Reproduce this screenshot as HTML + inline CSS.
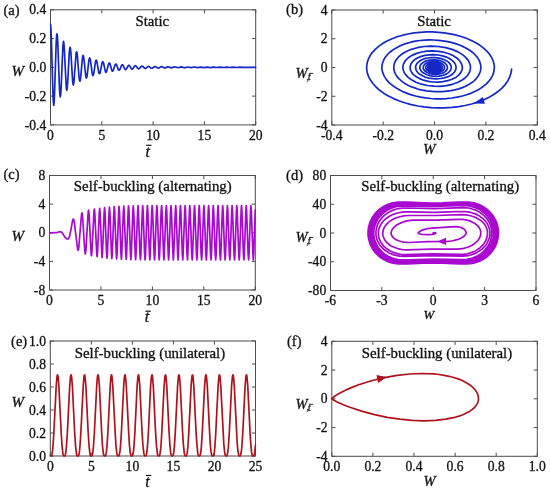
<!DOCTYPE html>
<html><head><meta charset="utf-8"><title>Figure</title>
<style>
html,body{margin:0;padding:0;background:#fff;}
body{width:550px;height:492px;overflow:hidden;}
svg{display:block;}
text{font-family:"Liberation Serif","Times New Roman",serif;fill:#111;stroke:#111;stroke-width:0.3px;}
.tl text{font-size:13.6px;}
.tt{font-size:14.85px;}
.pl{font-size:14.5px;}
.it{font-size:15px;font-style:italic;}
.itt{font-size:16px;font-style:italic;}
.sub{font-size:10px;}
.subi{font-style:italic;font-size:9.5px;}
.itr{font-size:14.5px;font-style:italic;}
</style></head><body>
<svg width="550" height="492" viewBox="0 0 550 492"><defs><clipPath id="ca"><rect x="49.50" y="8.80" width="207.20" height="117.10"/></clipPath><clipPath id="cb"><rect x="330.80" y="9.00" width="207.50" height="117.00"/></clipPath><clipPath id="cc"><rect x="48.50" y="174.50" width="207.80" height="116.50"/></clipPath><clipPath id="cd"><rect x="329.50" y="174.50" width="207.50" height="117.00"/></clipPath><clipPath id="ce"><rect x="49.30" y="340.00" width="207.20" height="117.00"/></clipPath><clipPath id="cf"><rect x="330.80" y="340.30" width="207.50" height="117.00"/></clipPath></defs><g stroke="#4d4d4d" stroke-width="1" fill="none"><path d="M50.50 124.90v-3.6M50.50 9.80v3.6"/><path d="M101.80 124.90v-3.6M101.80 9.80v3.6"/><path d="M153.10 124.90v-3.6M153.10 9.80v3.6"/><path d="M204.40 124.90v-3.6M204.40 9.80v3.6"/><path d="M255.70 124.90v-3.6M255.70 9.80v3.6"/><path d="M50.50 124.90h3.6M255.70 124.90h-3.6"/><path d="M50.50 96.12h3.6M255.70 96.12h-3.6"/><path d="M50.50 67.35h3.6M255.70 67.35h-3.6"/><path d="M50.50 38.57h3.6M255.70 38.57h-3.6"/><path d="M50.50 9.80h3.6M255.70 9.80h-3.6"/><rect x="50.50" y="9.80" width="205.20" height="115.10" fill="none"/></g><g stroke="#4d4d4d" stroke-width="1" fill="none"><path d="M331.80 125.00v-3.6M331.80 10.00v3.6"/><path d="M383.18 125.00v-3.6M383.18 10.00v3.6"/><path d="M434.55 125.00v-3.6M434.55 10.00v3.6"/><path d="M485.92 125.00v-3.6M485.92 10.00v3.6"/><path d="M537.30 125.00v-3.6M537.30 10.00v3.6"/><path d="M331.80 125.00h3.6M537.30 125.00h-3.6"/><path d="M331.80 96.25h3.6M537.30 96.25h-3.6"/><path d="M331.80 67.50h3.6M537.30 67.50h-3.6"/><path d="M331.80 38.75h3.6M537.30 38.75h-3.6"/><path d="M331.80 10.00h3.6M537.30 10.00h-3.6"/><rect x="331.80" y="10.00" width="205.50" height="115.00" fill="none"/></g><g stroke="#4d4d4d" stroke-width="1" fill="none"><path d="M49.50 290.00v-3.6M49.50 175.50v3.6"/><path d="M100.95 290.00v-3.6M100.95 175.50v3.6"/><path d="M152.40 290.00v-3.6M152.40 175.50v3.6"/><path d="M203.85 290.00v-3.6M203.85 175.50v3.6"/><path d="M255.30 290.00v-3.6M255.30 175.50v3.6"/><path d="M49.50 290.00h3.6M255.30 290.00h-3.6"/><path d="M49.50 261.38h3.6M255.30 261.38h-3.6"/><path d="M49.50 232.75h3.6M255.30 232.75h-3.6"/><path d="M49.50 204.12h3.6M255.30 204.12h-3.6"/><path d="M49.50 175.50h3.6M255.30 175.50h-3.6"/><rect x="49.50" y="175.50" width="205.80" height="114.50" fill="none"/></g><g stroke="#4d4d4d" stroke-width="1" fill="none"><path d="M330.50 290.50v-3.6M330.50 175.50v3.6"/><path d="M381.88 290.50v-3.6M381.88 175.50v3.6"/><path d="M433.25 290.50v-3.6M433.25 175.50v3.6"/><path d="M484.62 290.50v-3.6M484.62 175.50v3.6"/><path d="M536.00 290.50v-3.6M536.00 175.50v3.6"/><path d="M330.50 290.50h3.6M536.00 290.50h-3.6"/><path d="M330.50 261.75h3.6M536.00 261.75h-3.6"/><path d="M330.50 233.00h3.6M536.00 233.00h-3.6"/><path d="M330.50 204.25h3.6M536.00 204.25h-3.6"/><path d="M330.50 175.50h3.6M536.00 175.50h-3.6"/><rect x="330.50" y="175.50" width="205.50" height="115.00" fill="none"/></g><g stroke="#4d4d4d" stroke-width="1" fill="none"><path d="M50.30 456.00v-3.6M50.30 341.00v3.6"/><path d="M91.34 456.00v-3.6M91.34 341.00v3.6"/><path d="M132.38 456.00v-3.6M132.38 341.00v3.6"/><path d="M173.42 456.00v-3.6M173.42 341.00v3.6"/><path d="M214.46 456.00v-3.6M214.46 341.00v3.6"/><path d="M255.50 456.00v-3.6M255.50 341.00v3.6"/><path d="M50.30 456.00h3.6M255.50 456.00h-3.6"/><path d="M50.30 433.00h3.6M255.50 433.00h-3.6"/><path d="M50.30 410.00h3.6M255.50 410.00h-3.6"/><path d="M50.30 387.00h3.6M255.50 387.00h-3.6"/><path d="M50.30 364.00h3.6M255.50 364.00h-3.6"/><path d="M50.30 341.00h3.6M255.50 341.00h-3.6"/><rect x="50.30" y="341.00" width="205.20" height="115.00" fill="none"/></g><g stroke="#4d4d4d" stroke-width="1" fill="none"><path d="M331.80 456.30v-3.6M331.80 341.30v3.6"/><path d="M372.90 456.30v-3.6M372.90 341.30v3.6"/><path d="M414.00 456.30v-3.6M414.00 341.30v3.6"/><path d="M455.10 456.30v-3.6M455.10 341.30v3.6"/><path d="M496.20 456.30v-3.6M496.20 341.30v3.6"/><path d="M537.30 456.30v-3.6M537.30 341.30v3.6"/><path d="M331.80 456.30h3.6M537.30 456.30h-3.6"/><path d="M331.80 427.55h3.6M537.30 427.55h-3.6"/><path d="M331.80 398.80h3.6M537.30 398.80h-3.6"/><path d="M331.80 370.05h3.6M537.30 370.05h-3.6"/><path d="M331.80 341.30h3.6M537.30 341.30h-3.6"/><rect x="331.80" y="341.30" width="205.50" height="115.00" fill="none"/></g><g fill="none" stroke-width="1.7" stroke-linejoin="round" stroke-linecap="round"><path clip-path="url(#ca)" d="M50.5 24.2 50.9 27.6 51.3 37.0 53.0 95.4 53.4 102.9 53.7 105.4 54.1 102.7 54.5 94.5 56.2 42.3 56.6 36.0 57.0 33.9 57.4 36.2 57.8 43.4 59.5 89.5 59.9 95.0 60.3 96.8 60.7 94.7 61.1 88.4 62.8 48.0 63.2 43.0 63.5 41.4 63.9 43.2 64.3 48.8 66.1 84.5 66.4 88.8 66.8 90.2 67.2 88.6 67.6 83.6 69.3 52.3 69.7 48.5 70.1 47.2 70.5 48.6 70.9 52.9 72.6 80.6 73.0 84.0 73.3 85.1 73.7 83.8 74.1 80.0 75.9 55.7 76.2 52.7 76.6 51.8 77.0 52.8 77.4 56.2 79.1 77.7 79.5 80.2 79.9 81.1 80.3 80.1 80.7 77.1 82.4 58.3 82.8 56.0 83.1 55.3 83.5 56.1 83.9 58.7 85.7 75.3 86.0 77.3 86.4 78.0 86.8 77.2 87.2 74.9 88.9 60.4 89.3 58.6 89.7 58.0 90.1 58.6 90.5 60.6 92.2 73.5 92.6 75.1 92.9 75.6 93.3 75.0 93.8 73.2 95.5 61.9 95.8 60.5 96.2 60.1 96.6 60.6 97.0 62.2 98.7 72.1 99.1 73.4 99.5 73.7 99.9 73.3 100.3 71.9 102.0 63.1 102.4 62.1 102.7 61.7 103.1 62.1 103.6 63.3 105.3 71.1 105.6 72.0 106.0 72.3 106.4 72.0 106.8 70.9 108.5 64.1 108.9 63.3 109.3 63.0 109.7 63.3 110.1 64.2 111.8 70.2 112.2 71.0 112.5 71.2 112.9 70.9 113.4 70.1 115.1 64.8 115.4 64.2 115.8 64.0 116.2 64.2 116.6 64.9 118.3 69.6 118.7 70.1 119.1 70.3 119.5 70.1 119.9 69.5 121.6 65.4 122.3 64.7 122.7 64.9 123.2 65.5 124.9 69.1 125.6 69.7 126.0 69.5 126.4 69.0 128.1 65.8 128.9 65.3 129.7 65.9 131.4 68.7 132.1 69.2 133.0 68.6 134.7 66.1 135.4 65.7 136.2 66.2 137.9 68.4 138.7 68.8 139.5 68.4 141.2 66.4 142.0 66.0 142.8 66.4 144.5 68.2 145.2 68.5 146.1 68.2 147.8 66.5 148.5 66.3 149.3 66.6 151.0 68.1 151.8 68.3 152.5 68.1 154.2 66.8 155.0 66.5 155.7 66.7 157.4 67.9 158.3 68.1 159.0 68.0 160.7 66.9 161.6 66.6 162.4 66.8 164.1 67.9 164.8 68.0 165.5 67.9 167.2 66.9 168.1 66.7 171.4 67.9 174.6 66.8 177.9 67.8 181.2 66.9 184.4 67.8 187.7 67.0 191.0 67.7 194.2 67.0 197.5 67.6 200.8 67.1 204.0 67.6 207.3 67.1 210.6 67.6 213.8 67.2 217.1 67.5 220.4 67.2 223.6 67.5 226.9 67.2 230.1 67.5 233.4 67.2 236.7 67.5 240.0 67.2 243.2 67.4 246.5 67.3 255.7 67.4" stroke="#1428c8"/><path clip-path="url(#cb)" d="M511.6 69.2 511.0 73.0 509.7 77.1 507.9 80.7 505.2 84.6 502.2 87.9 498.3 91.3 493.8 94.5 488.7 97.4 483.8 99.8 477.9 102.0 471.6 104.0 465.0 105.5 458.8 106.6 451.8 107.4 444.7 107.9 437.6 107.9 431.2 107.6 424.1 106.9 417.9 106.0 411.2 104.6 405.5 103.0 399.4 101.0 393.6 98.6 388.4 96.0 384.0 93.4 379.7 90.3 376.0 87.0 372.9 83.5 370.6 80.3 368.6 76.6 367.3 72.9 366.7 69.1 366.7 65.8 367.4 62.1 368.5 58.8 370.3 55.3 372.5 52.3 375.5 49.1 379.0 46.1 383.0 43.3 387.1 41.0 392.0 38.8 397.2 36.8 402.8 35.2 408.0 34.0 414.1 32.9 420.3 32.3 426.5 31.9 432.2 31.9 438.5 32.3 444.0 32.8 450.1 33.8 455.4 34.9 461.0 36.5 466.3 38.3 471.3 40.5 475.4 42.6 479.6 45.1 483.3 47.9 486.5 50.8 489.0 53.6 491.2 56.7 492.8 60.0 493.8 63.2 494.3 66.2 494.2 69.5 493.7 72.4 492.5 75.6 491.0 78.4 488.8 81.3 486.1 84.1 482.9 86.7 479.7 88.9 475.7 91.1 471.4 93.1 466.7 94.7 462.3 96.0 457.1 97.2 451.8 98.0 446.3 98.6 441.3 98.8 435.8 98.8 430.8 98.5 425.4 97.9 420.6 97.1 415.5 96.0 410.6 94.6 405.9 92.9 402.0 91.2 398.0 89.1 394.4 86.8 391.1 84.4 388.6 82.1 386.3 79.4 384.5 76.6 383.1 73.7 382.3 71.1 381.9 68.2 382.0 65.6 382.6 62.7 383.6 60.2 385.1 57.5 387.1 55.0 389.5 52.5 392.1 50.5 395.3 48.4 398.9 46.4 402.7 44.8 406.5 43.4 410.8 42.2 415.4 41.2 420.1 40.5 424.4 40.1 429.3 39.9 433.7 40.0 438.5 40.3 442.8 40.8 447.5 41.6 452.0 42.6 456.3 43.9 460.0 45.2 463.8 46.9 467.2 48.8 470.4 50.8 472.9 52.7 475.3 55.0 477.3 57.4 478.9 59.9 479.9 62.2 480.6 64.7 480.9 67.0 480.7 69.6 480.2 71.8 479.2 74.3 477.8 76.6 476.0 78.9 474.1 80.8 471.5 82.8 468.7 84.6 465.5 86.3 462.4 87.6 458.7 88.9 454.8 89.9 450.8 90.7 442.8 91.7 434.7 91.7 426.6 90.9 422.5 90.2 418.6 89.3 411.7 86.9 408.4 85.4 405.3 83.7 402.9 82.1 400.5 80.2 398.4 78.2 396.7 76.1 395.5 74.1 394.5 71.9 394.0 69.8 393.8 67.6 393.9 65.6 394.4 63.4 395.4 61.2 396.7 59.2 398.1 57.4 400.1 55.5 402.4 53.8 404.9 52.2 410.5 49.6 417.2 47.7 424.1 46.5 431.2 46.1 438.4 46.5 445.7 47.6 452.1 49.4 458.0 51.9 462.8 54.9 464.9 56.6 466.6 58.4 468.0 60.1 469.1 62.0 469.8 63.8 470.3 65.7 470.5 67.5 470.3 69.5 469.8 71.4 468.9 73.3 467.8 74.9 466.4 76.7 464.6 78.3 462.6 79.8 458.0 82.3 452.4 84.3 446.5 85.6 440.3 86.3 434.0 86.2 427.4 85.5 421.6 84.2 416.0 82.2 411.5 79.8 407.6 76.9 405.0 73.8 404.1 72.3 403.4 70.5 403.0 69.0 402.9 67.2 403.1 65.5 403.6 63.8 404.4 62.3 405.4 60.7 406.7 59.2 408.3 57.8 412.0 55.4 416.7 53.4 421.7 52.0 427.0 51.2 432.6 50.9 438.4 51.3 443.7 52.2 448.9 53.7 453.4 55.8 457.1 58.2 459.8 60.9 461.5 63.7 462.3 66.6 462.4 68.1 462.1 69.6 460.9 72.4 458.7 75.1 455.8 77.4 451.9 79.3 447.7 80.7 443.1 81.6 438.2 82.1 433.1 82.0 428.3 81.3 423.6 80.2 419.6 78.6 416.0 76.6 413.3 74.4 411.4 72.0 410.3 69.4 410.1 66.7 410.8 64.2 412.4 61.8 414.6 59.7 417.8 57.8 421.3 56.4 425.2 55.4 429.4 54.8 433.9 54.7 438.2 55.0 442.5 55.9 446.4 57.1 449.8 58.8 452.4 60.6 454.4 62.7 455.6 64.9 456.1 67.3 455.8 69.5 454.7 71.7 452.9 73.7 450.4 75.5 447.5 76.9 444.2 77.9 440.6 78.5 436.6 78.8 432.8 78.7 429.0 78.1 425.5 77.2 422.4 75.8 419.8 74.3 417.8 72.6 416.4 70.7 415.7 68.6 415.6 66.6 416.3 64.6 417.6 62.8 419.6 61.1 421.9 59.8 424.7 58.7 427.8 58.0 431.3 57.6 434.6 57.6 438.1 57.9 441.3 58.6 444.3 59.7 446.7 60.9 448.7 62.4 450.1 64.0 451.0 65.8 451.3 67.6 450.9 69.4 450.0 71.0 448.5 72.6 446.5 73.9 444.2 74.9 441.6 75.7 438.8 76.1 435.8 76.3 432.7 76.1 429.9 75.6 427.2 74.8 424.9 73.8 422.9 72.6 421.4 71.3 420.4 69.7 419.9 68.2 419.9 66.6 420.5 65.1 421.6 63.6 423.1 62.4 425.0 61.4 427.2 60.6 429.7 60.1 432.3 59.8 435.0 59.8 437.7 60.1 440.2 60.7 442.3 61.5 444.1 62.5 445.6 63.7 446.7 65.0 447.3 66.4 447.5 67.8 447.1 69.2 446.3 70.5 445.1 71.6 443.6 72.6 441.7 73.3 439.7 73.9 437.5 74.2 435.1 74.3 432.8 74.1 430.5 73.7 428.5 73.1 426.8 72.3 425.3 71.3 424.2 70.2 423.5 69.0 423.2 67.8 423.3 66.6 423.8 65.4 424.7 64.4 425.9 63.4 427.4 62.7 429.2 62.1 433.2 61.5 437.4 61.9 440.8 63.0 442.2 63.8 443.3 64.7 444.1 65.7 444.5 66.8 444.6 67.9 444.2 69.0 443.5 70.0 442.6 70.8 439.9 72.1 436.4 72.7 432.8 72.6 429.7 71.7 427.3 70.3 426.4 69.5 425.9 68.5 425.7 67.6 425.8 66.7 426.3 65.8 427.0 65.0 429.2 63.7 432.1 63.0 435.4 62.9 438.3 63.6 440.6 64.7 442.0 66.3 442.3 67.1 442.3 68.0 442.0 68.8 441.4 69.5 439.7 70.7 437.2 71.4 434.4 71.6 431.8 71.1 429.6 70.2 428.2 68.9 427.8 68.2 427.7 67.5 428.2 66.1 429.6 64.9 431.6 64.2 434.1 63.9 436.5 64.2 438.6 64.9 440.0 66.0 440.6 67.3 440.3 68.6 439.2 69.6 437.4 70.4 435.3 70.7 433.2 70.5 431.4 70.0 430.0 69.1 429.3 68.0 429.4 66.9 430.1 65.9 431.5 65.1 433.4 64.7 435.3 64.8 437.0 65.2 438.4 66.0 439.1 66.9 439.2 67.9 438.6 68.8 437.4 69.5 435.9 69.9 434.3 69.9 432.7 69.6 431.5 69.1 430.7 68.3 430.4 67.4 430.8 66.6 431.7 65.9 433.0 65.4 434.5 65.3 435.9 65.5 437.1 66.0 437.9 66.7 438.2 67.5 437.9 68.3 437.2 68.9 436.1 69.3 434.9 69.4 433.6 69.3 432.5 68.9 431.7 68.4 431.3 67.7 431.4 67.0 432.0 66.4 432.9 66.0 434.0 65.8 435.2 65.9 436.3 66.2 437.1 66.7 437.4 67.3 437.4 67.9 436.9 68.4 436.1 68.8 434.2 69.0 432.5 68.4 432.1 67.9 432.0 67.3 432.3 66.8 432.9 66.4 434.7 66.1 436.4 66.7 436.8 67.1 436.9 67.6 436.6 68.1 436.0 68.5 434.9 68.7 433.8 68.6 432.8 68.2 432.5 67.6 432.8 66.9 433.7 66.5 434.8 66.4 435.9 66.7 436.3 67.1 436.4 67.5 436.3 67.9 435.9 68.2 435.1 68.5 434.1 68.5 433.3 68.1 432.9 67.7 433.0 67.1 433.6 66.7 434.6 66.6 435.5 66.8 436.1 67.4 435.8 68.0 435.1 68.3 434.3 68.3 433.6 68.1 433.2 67.7 433.2 67.2 433.7 66.9 434.4 66.7 435.2 66.9 435.8 67.3 435.7 67.9 434.5 68.2 433.8 68.0 433.4 67.7 433.4 67.3 433.7 67.0 435.0 66.9 435.6 67.3 435.5 67.8 434.6 68.1 433.6 67.7 433.5 67.4 433.8 67.1 434.9 67.0 435.4 67.3 435.4 67.7 434.6 68.0 433.8 67.7 433.7 67.5 433.9 67.2 434.8 67.1 435.3 67.3 435.3 67.6 434.7 67.9 433.9 67.7 433.8 67.5 433.9 67.3 434.7 67.1 435.1 67.3 435.2 67.6 434.7 67.9 434.1 67.7 434.0 67.3 434.6 67.2 435.0 67.3 435.1 67.6 434.7 67.8 434.2 67.7 434.1 67.4 434.6 67.2 434.9 67.3 435.0 67.6 434.7 67.8 434.2 67.7 434.1 67.4 434.5 67.3 435.0 67.5 434.7 67.7 434.3 67.7 434.2 67.4 434.5 67.3 434.9 67.5 434.3 67.6 434.2 67.4 434.5 67.3 434.8 67.5 434.4 67.6 434.3 67.4 434.5 67.4 434.8 67.5 434.4 67.6 434.5 67.4 434.8 67.5 434.4 67.6 434.5 67.4 434.7 67.5 434.4 67.6 434.5 67.4 434.7 67.5 434.5 67.5" stroke="#1428c8"/><path clip-path="url(#cc)" d="M49.5 232.8 56.2 232.7 59.5 231.8 60.8 231.8 61.5 232.2 62.3 233.0 65.0 237.1 66.0 238.3 67.0 239.0 68.2 238.9 68.9 238.0 69.6 235.9 71.0 229.5 72.6 220.3 73.0 219.2 73.4 219.1 73.9 220.2 74.4 222.8 77.4 247.5 77.8 249.8 78.0 250.3 78.2 250.3 78.5 249.3 78.9 246.3 81.3 216.7 81.7 213.7 82.0 212.9 82.3 214.0 82.6 217.0 84.7 249.5 85.0 253.0 85.3 253.9 85.6 252.7 86.0 249.3 88.0 214.7 88.3 211.1 88.6 210.1 89.2 215.6 91.0 251.7 91.2 254.9 91.5 255.7 92.0 251.0 93.8 214.3 94.1 210.3 94.4 209.1 94.8 213.4 96.6 251.2 96.8 255.2 97.1 256.7 97.6 252.0 99.2 213.9 99.7 208.3 100.1 212.6 101.7 251.9 102.1 257.6 102.5 253.2 104.1 213.3 104.6 207.5 105.0 212.1 106.5 252.3 107.0 258.2 107.4 253.6 109.0 213.0 109.4 207.0 109.9 211.8 111.4 252.5 111.8 258.7 112.3 253.8 113.8 212.8 114.2 206.6 114.7 211.5 116.2 252.8 116.6 259.0 117.1 254.0 118.6 212.7 119.0 206.3 119.5 211.4 120.9 252.9 121.4 259.3 121.8 254.2 123.3 212.5 123.8 206.1 124.2 211.2 125.7 253.0 126.2 259.5 126.6 254.3 128.1 212.4 128.5 205.9 129.0 211.1 130.4 253.1 130.9 259.6 131.3 254.4 132.8 212.3 133.3 205.8 133.7 210.5 135.2 253.7 135.6 259.7 136.0 255.0 137.6 211.7 138.0 205.7 138.4 210.5 139.9 253.8 140.4 259.8 140.8 255.1 142.3 211.7 142.7 205.7 143.1 210.4 144.6 253.8 145.1 259.9 145.5 255.1 147.0 211.6 147.4 205.6 147.8 210.4 149.4 253.9 149.8 259.9 150.2 255.1 151.7 211.6 152.2 205.6 152.6 210.4 154.1 253.9 154.5 259.9 154.9 255.2 156.4 211.6 156.9 205.6 157.3 210.3 158.8 253.9 159.2 260.0 159.6 255.2 161.1 211.6 161.6 205.5 162.0 210.3 163.5 253.9 163.9 260.0 164.3 255.2 165.8 211.6 166.3 205.5 166.7 210.3 168.2 253.9 168.6 260.0 169.0 255.2 170.5 211.6 171.0 205.5 171.4 210.3 172.9 253.9 173.3 260.0 173.7 255.2 175.3 211.5 175.7 205.5 176.1 210.3 177.6 254.0 178.0 260.0 178.4 255.2 180.0 211.5 180.4 205.5 180.8 210.3 182.3 254.0 182.8 260.0 183.1 255.2 184.7 211.5 185.1 205.5 185.5 210.3 187.0 254.0 187.5 260.0 187.8 255.2 189.4 211.5 189.8 205.5 190.2 210.3 191.7 254.0 192.2 260.0 192.6 255.2 194.1 211.5 194.5 205.5 194.9 210.3 196.4 254.0 196.9 260.0 197.3 255.2 198.8 211.5 199.2 205.5 199.6 210.3 201.1 254.0 201.6 260.0 202.0 255.2 203.5 211.5 203.9 205.5 204.3 210.3 205.8 254.0 206.3 260.0 206.7 255.2 208.2 211.5 208.6 205.5 209.0 210.3 210.5 254.0 211.0 260.0 211.4 255.2 212.9 211.5 213.3 205.5 213.7 210.3 215.2 254.0 215.7 260.0 216.1 255.2 217.6 211.5 218.0 205.5 218.4 210.3 219.9 254.0 220.4 260.0 220.8 255.2 222.3 211.5 222.7 205.5 223.1 210.3 224.6 254.0 225.1 260.0 225.5 255.2 227.0 211.5 227.4 205.5 227.8 210.3 229.3 254.0 229.8 260.0 230.2 255.2 231.7 211.5 232.1 205.5 232.5 210.3 234.0 254.0 234.5 260.0 234.9 255.2 236.4 211.5 236.8 205.5 237.2 210.3 238.7 254.0 239.2 260.0 239.6 255.2 241.1 211.5 241.5 205.5 241.9 210.3 243.4 254.0 243.9 260.0 244.3 255.2 245.8 211.5 246.2 205.5 246.6 210.3 248.1 254.0 248.6 260.0 249.0 255.2 250.5 211.5 250.9 205.5 251.3 210.3 252.9 254.0 253.3 260.0 253.7 254.0 255.3 209.7" stroke="#a808d0"/><path clip-path="url(#cd)" d="M433.2 233.0 433.5 232.8 434.2 232.6 435.7 232.8 435.8 233.0 435.7 233.3 434.7 233.8 432.1 234.4 428.4 234.7 422.2 234.4 419.9 234.0 418.5 233.4 418.2 233.0 418.5 232.5 420.6 230.9 423.7 229.6 427.1 228.7 432.1 228.1 454.9 226.6 458.3 226.8 461.1 227.5 463.5 228.7 465.2 230.3 465.8 231.5 466.1 232.5 466.1 233.3 465.8 234.2 464.3 236.0 461.8 237.7 458.5 239.2 454.4 240.4 451.2 241.0 447.7 241.3 428.3 241.7 409.2 242.5 403.6 242.1 401.0 241.5 398.5 240.8 396.3 239.8 394.8 238.9 393.5 237.9 392.5 236.7 391.6 235.2 391.2 234.0 391.1 232.8 391.4 231.4 391.9 230.0 392.8 228.6 394.1 227.2 395.6 225.8 397.5 224.5 399.7 223.4 404.1 221.7 408.3 220.7 412.9 220.2 436.0 220.1 459.2 219.3 462.5 219.4 465.7 219.9 468.8 220.6 470.9 221.4 473.5 222.7 475.3 223.8 477.3 225.4 478.6 226.8 479.8 228.8 480.5 230.3 480.8 231.9 480.8 234.0 480.3 236.1 479.6 237.8 478.2 240.1 476.8 241.7 474.4 243.7 472.4 245.0 470.1 246.2 467.6 247.2 462.2 248.7 457.4 249.2 431.2 249.1 406.6 249.8 402.5 249.6 399.6 249.1 396.8 248.3 394.1 247.3 390.8 245.7 388.7 244.2 386.8 242.5 385.3 240.6 384.1 238.7 383.3 236.6 382.8 234.4 382.8 232.0 383.3 229.7 384.1 227.8 385.6 225.4 387.2 223.6 389.7 221.4 391.9 220.0 394.4 218.6 397.1 217.5 402.0 216.2 407.3 215.5 435.9 215.5 461.9 214.7 466.4 214.9 469.6 215.5 473.7 216.7 476.6 217.9 479.2 219.4 481.5 221.1 483.5 223.0 485.1 225.1 486.3 227.4 487.1 229.8 487.5 232.2 487.4 234.9 486.8 237.9 485.7 240.8 484.0 243.5 482.7 245.2 480.2 247.6 478.4 249.0 475.3 250.9 473.1 251.9 469.6 253.2 467.1 253.8 463.3 254.3 460.7 254.4 432.7 253.9 404.6 254.6 400.7 254.3 398.2 253.9 393.3 252.4 389.9 250.8 386.0 248.2 383.4 245.8 380.8 242.2 379.4 239.2 378.8 237.2 378.4 235.1 378.4 231.3 379.2 227.8 380.9 224.3 383.4 221.0 385.7 218.8 389.5 216.2 392.6 214.6 397.3 213.0 400.9 212.3 404.7 211.9 408.5 211.9 434.9 212.3 456.3 211.6 464.1 211.5 467.9 211.9 471.7 212.7 475.2 213.9 477.5 214.9 480.6 216.8 483.3 218.9 485.6 221.4 486.9 223.1 488.4 226.0 489.4 228.9 489.9 232.0 489.9 234.1 489.4 237.4 488.3 240.7 486.6 243.9 485.1 245.9 482.6 248.6 480.6 250.2 477.2 252.4 474.8 253.6 470.9 255.0 468.2 255.6 462.6 256.2 433.4 255.6 404.0 256.4 399.7 256.2 395.6 255.4 391.6 254.1 389.1 252.9 385.7 250.8 383.6 249.2 380.9 246.4 379.4 244.4 377.6 241.2 376.8 238.9 376.0 235.4 375.9 231.8 376.5 228.2 377.2 225.7 378.8 222.1 380.3 219.9 382.9 216.7 385.0 214.9 388.5 212.4 391.1 211.0 393.8 209.9 396.6 209.0 399.6 208.4 402.5 208.1 410.1 208.0 433.8 208.6 463.8 207.7 468.3 208.0 471.3 208.7 475.6 210.1 478.2 211.4 481.9 213.8 484.1 215.7 487.0 218.8 488.6 221.2 490.4 224.9 491.2 227.6 491.7 230.3 491.8 233.0 491.4 237.1 490.8 239.9 489.1 244.0 487.6 246.6 484.8 250.1 482.6 252.3 480.2 254.2 477.5 255.8 473.2 257.8 470.1 258.7 466.9 259.3 462.1 259.6 433.4 259.0 409.4 259.8 401.3 259.9 398.1 259.5 394.9 258.9 391.8 257.9 388.8 256.6 384.8 254.1 382.3 252.1 379.1 248.7 377.4 246.1 375.4 241.9 374.5 239.0 373.9 236.0 373.7 233.0 374.1 228.7 374.8 225.9 376.5 221.7 378.0 219.1 380.9 215.4 383.1 213.2 385.6 211.3 388.3 209.6 392.8 207.6 395.9 206.7 399.1 206.1 404.0 205.8 433.1 206.5 457.4 205.7 465.7 205.6 468.9 205.9 472.2 206.6 475.3 207.6 478.3 208.9 482.4 211.5 484.9 213.5 488.1 217.1 489.9 219.7 491.9 223.9 492.8 226.9 493.4 229.9 493.6 233.0 493.2 237.4 492.4 240.4 490.7 244.7 489.1 247.4 486.2 251.1 483.8 253.4 481.2 255.3 478.4 257.0 475.4 258.4 472.3 259.5 469.0 260.2 465.7 260.6 457.3 260.6 432.5 260.0 402.6 260.9 397.6 260.6 394.3 259.9 389.5 258.3 386.5 256.8 382.4 254.0 380.0 251.8 377.9 249.3 376.1 246.7 374.0 242.3 373.0 239.3 372.4 236.2 372.3 233.0 372.7 228.5 373.4 225.4 375.2 221.1 376.8 218.3 379.8 214.5 382.1 212.3 384.8 210.3 387.6 208.6 390.6 207.2 393.8 206.1 397.1 205.3 400.5 204.9 409.0 204.9 434.0 205.6 464.2 204.7 469.3 205.0 472.7 205.7 477.5 207.3 480.5 208.9 484.6 211.7 487.0 214.0 489.2 216.4 491.0 219.2 493.1 223.5 494.1 226.6 494.6 229.8 494.8 233.0 494.4 237.7 493.7 240.8 491.8 245.3 490.2 248.1 487.1 251.9 484.6 254.2 481.9 256.2 479.0 258.0 475.9 259.4 472.6 260.4 469.2 261.1 465.8 261.5 457.1 261.4 433.3 260.7 400.8 261.6 395.6 261.1 392.2 260.3 389.0 259.1 385.9 257.6 381.7 254.7 379.2 252.4 377.0 249.9 375.1 247.1 372.9 242.7 371.9 239.5 371.3 236.3 371.1 233.0 371.6 228.2 372.3 225.1 374.2 220.6 375.9 217.7 379.0 213.8 381.5 211.5 384.2 209.5 387.2 207.7 390.3 206.3 393.6 205.3 397.0 204.5 400.5 204.2 409.2 204.3 433.2 205.0 466.0 204.1 471.2 204.6 474.6 205.4 477.8 206.6 480.9 208.2 485.2 211.1 487.7 213.4 489.9 215.9 491.8 218.7 494.0 223.2 495.0 226.4 495.6 229.7 495.8 233.0 495.4 237.8 494.6 241.0 492.7 245.6 491.0 248.5 487.9 252.4 485.4 254.7 482.6 256.8 479.6 258.5 476.5 260.0 473.1 261.0 469.7 261.7 466.2 262.1 457.5 262.0 433.3 261.3 424.8 261.5 407.4 262.1 400.3 262.2 395.1 261.6 391.7 260.8 388.4 259.6 385.3 258.0 381.0 255.1 378.5 252.8 376.2 250.2 374.3 247.4 372.1 242.8 371.1 239.6 370.5 236.3 370.4 231.4 371.1 226.4 372.1 223.2 373.5 220.1 375.2 217.2 378.5 213.2 381.1 210.9 383.9 208.8 386.9 207.1 390.2 205.7 393.6 204.6 397.1 203.9 400.6 203.7 434.1 204.5 465.8 203.5 471.2 204.0 474.6 204.9 478.0 206.0 481.2 207.6 485.6 210.5 488.2 212.9 490.4 215.5 492.4 218.4 494.7 223.0 495.7 226.2 496.3 229.6 496.5 233.0 496.0 238.0 495.2 241.3 493.3 246.0 491.5 248.9 488.3 253.0 485.7 255.3 482.9 257.4 479.8 259.2 476.5 260.6 473.1 261.6 469.6 262.3 466.0 262.6 432.4 261.7 400.5 262.6 395.2 262.1 391.7 261.3 388.3 260.1 385.1 258.6 380.7 255.6 378.1 253.2 375.8 250.6 373.8 247.7 371.6 243.1 370.6 239.8 369.9 236.4 369.7 233.0 370.2 228.0 371.0 224.7 372.9 219.9 374.7 216.9 378.0 212.9 380.6 210.5 383.4 208.4 386.5 206.7 389.8 205.3 393.2 204.2 396.8 203.5 400.3 203.3 434.1 204.1 466.1 203.2 471.5 203.7 475.0 204.5 478.4 205.7 481.6 207.3 486.0 210.3 488.6 212.7 490.9 215.3 492.9 218.2 495.2 222.9 496.2 226.2 496.8 229.6 497.0 233.0 496.6 238.1 495.7 241.4 493.8 246.2 492.0 249.2 488.7 253.2 486.1 255.6 483.2 257.7 480.1 259.5 476.9 260.9 473.4 262.0 469.9 262.6 466.3 262.9 432.4 262.0 400.3 263.0 394.9 262.5 391.4 261.6 388.0 260.4 384.7 258.8 380.3 255.8 377.7 253.4 375.4 250.8 373.4 247.9 371.1 243.2 370.1 239.9 369.5 236.5 369.3 233.0 369.7 227.9 370.6 224.6 372.5 219.8 374.3 216.8 377.6 212.7 380.2 210.3 383.1 208.2 386.2 206.4 389.5 205.0 393.0 203.9 396.5 203.2 400.1 203.0 434.1 203.8 466.3 202.9 471.7 203.4 475.3 204.3 478.7 205.5 481.9 207.1 486.3 210.1 489.0 212.5 491.3 215.2 493.3 218.1 495.5 222.8 496.6 226.1 497.2 229.5 497.4 233.0 496.9 238.1 496.1 241.5 494.1 246.3 492.4 249.3 489.0 253.4 486.4 255.8 483.5 257.9 480.4 259.7 477.1 261.2 473.6 262.2 470.1 262.9 466.4 263.2 432.4 262.3 400.1 263.2 394.7 262.7 391.1 261.8 387.7 260.6 384.5 259.0 380.0 256.0 377.4 253.6 375.1 250.9 373.1 248.0 370.8 243.2 369.8 239.9 369.2 236.5 368.9 233.0 369.4 227.8 370.2 224.5 372.2 219.6 374.0 216.6 377.4 212.5 380.0 210.1 382.9 208.0 386.0 206.2 389.3 204.7 392.8 203.7 396.4 203.0 400.0 202.7 434.1 203.6 466.5 202.7 471.9 203.2 475.5 204.1 478.9 205.3 482.1 206.9 486.6 209.9 489.2 212.4 491.5 215.0 493.5 218.0 495.8 222.7 496.8 226.1 497.5 229.5 497.7 233.0 497.2 238.2 496.4 241.7 495.1 245.0 493.5 248.1 490.3 252.4 487.8 255.0 485.0 257.3 481.9 259.2 476.9 261.5 473.3 262.5 469.7 263.1 466.0 263.3 433.3 262.5 424.3 262.6 407.9 263.3 398.7 263.3 395.0 262.9 391.4 262.1 387.9 260.9 384.6 259.3 380.1 256.3 377.4 253.9 375.0 251.2 373.0 248.2 370.6 243.4 369.6 240.0 368.9 236.5 368.7 233.0 369.2 227.7 370.0 224.3 371.3 221.0 372.9 217.8 376.1 213.5 378.6 210.9 381.5 208.6 384.5 206.7 389.6 204.4 393.1 203.4 396.7 202.8 400.4 202.6 433.2 203.5 442.2 203.3 458.7 202.7 467.9 202.6 471.6 203.0 475.2 203.8 478.7 205.0 482.0 206.6 486.5 209.6 489.2 212.1 491.6 214.8 493.6 217.8 496.0 222.6 497.0 226.0 497.7 229.5 497.9 233.0 497.4 238.3 496.6 241.7 495.3 245.0 493.7 248.2 490.5 252.6 487.9 255.1 485.1 257.4 482.0 259.4 477.0 261.6 473.5 262.7 469.8 263.3 466.1 263.5 433.3 262.6 424.3 262.8 407.8 263.4 398.5 263.5 394.9 263.1 391.3 262.2 387.8 261.0 384.5 259.4 379.9 256.4 377.2 254.0 374.8 251.2 372.8 248.3 370.4 243.4 369.4 240.0 368.7 236.5 368.5 233.0 369.0 227.7 369.9 224.3 371.1 220.9 372.8 217.8 376.0 213.4 378.5 210.8 381.3 208.5 384.4 206.6 389.5 204.3 393.0 203.3 396.6 202.7 400.3 202.5 433.2 203.4 442.3 203.2 458.7 202.5 468.0 202.5 471.7 202.9 475.3 203.7 478.8 204.9 482.1 206.5 486.6 209.6 489.3 212.0 491.7 214.7 493.8 217.7 496.1 222.5 497.2 225.9 497.8 229.4 498.1 233.0 497.6 238.3 496.7 241.7 495.5 245.1 493.8 248.3 490.6 252.6 488.1 255.2 485.2 257.5 482.1 259.5 477.1 261.7 473.5 262.8 469.9 263.4 466.2 263.6 433.3 262.7 424.2 262.9 407.8 263.5 398.5 263.6 394.8 263.2 391.2 262.3 387.7 261.1 384.4 259.5 379.8 256.5 377.1 254.0 374.7 251.3 372.7 248.3 370.3 243.5 369.2 240.1 368.6 236.6 368.4 233.0 368.9 227.7 369.7 224.2 371.0 220.9 372.7 217.7 375.8 213.3 378.4 210.7 381.2 208.5 384.3 206.5 389.4 204.2 392.9 203.2 396.6 202.6 400.3 202.4 433.2 203.3 442.3 203.1 458.8 202.5 468.1 202.4 471.7 202.8 475.4 203.6 478.9 204.8 482.2 206.4 486.7 209.5 489.5 212.0 491.8 214.7 493.9 217.7 496.2 222.5 497.3 225.9 498.0 229.4 498.2 233.0 497.7 238.3 496.8 241.8 495.6 245.1 493.9 248.3 490.7 252.7 488.2 255.3 485.3 257.6 482.2 259.5 477.2 261.8 473.6 262.8 469.9 263.5 466.2 263.7 433.3 262.8 424.2 262.9 407.7 263.6 398.4 263.6 394.7 263.2 391.1 262.4 387.6 261.2 384.3 259.6 379.7 256.5 377.0 254.1 374.6 251.3 372.6 248.4 370.2 243.5 369.1 240.1 368.5 236.6 368.3 233.0 368.8 227.7 369.6 224.2 370.9 220.9 372.6 217.7 375.8 213.3 378.3 210.7 381.2 208.4 384.3 206.4 389.3 204.2 392.9 203.1 396.5 202.5 400.2 202.3 433.2 203.2 442.3 203.0 458.8 202.4 468.1 202.3 471.8 202.8 475.4 203.6 478.9 204.8 482.2 206.4 486.8 209.5 489.5 211.9 491.9 214.7 494.0 217.6 496.3 222.5 497.4 225.9 498.0 229.4 498.3 233.0 497.8 238.3 496.9 241.8 495.6 245.2 494.0 248.3 490.8 252.7 488.2 255.3 485.4 257.6 482.3 259.6 477.2 261.9 473.7 262.9 470.0 263.5 466.3 263.7 433.3 262.8 424.2 263.0 407.7 263.6 398.4 263.7 394.7 263.3 391.1 262.5 387.6 261.2 384.2 259.6 379.7 256.6 376.9 254.1 374.5 251.4 372.5 248.4 370.1 243.5 369.1 240.1 368.4 236.6 368.2 233.0 368.7 227.7 369.6 224.2 370.8 220.8 372.5 217.6 375.7 213.3 378.2 210.6 381.1 208.3 384.2 206.4 389.3 204.1 392.8 203.1 396.5 202.5 400.2 202.3 433.2 203.2 442.3 203.0 458.8 202.4 468.1 202.3 471.8 202.7 475.5 203.5 479.0 204.8 482.3 206.4 486.9 209.4 489.6 211.9 492.0 214.6 494.0 217.6 496.4 222.5 497.5 225.9 498.1 229.4 498.3 233.0 497.8 238.3 497.0 241.8 495.7 245.2 494.0 248.4 490.8 252.8 488.3 255.4 485.4 257.7 482.3 259.6 477.3 261.9 473.7 262.9 470.0 263.6 466.3 263.8 433.3 262.9 424.2 263.0 407.7 263.7 398.3 263.7 394.6 263.3 391.0 262.5 387.5 261.3 384.2 259.7 379.6 256.6 376.9 254.1 374.5 251.4 372.5 248.4 370.1 243.5 369.0 240.1 368.4 236.6 368.2 233.0 368.6 227.7 369.5 224.2 370.8 220.8 372.4 217.6 375.6 213.2 378.2 210.6 381.1 208.3 384.2 206.3 389.2 204.1 392.8 203.0 396.5 202.4 400.2 202.2 433.2 203.1 442.3 203.0 458.9 202.3 468.2 202.3 471.9 202.7 475.5 203.5 479.0 204.7 482.3 206.3 486.9 209.4 489.6 211.9 492.0 214.6 494.1 217.6 496.4 222.5 497.5 225.9 498.1 229.4 498.4 233.0 497.9 238.3 497.0 241.8 495.7 245.2 494.1 248.4 490.9 252.8 488.3 255.4 485.5 257.7 482.3 259.7 477.3 261.9 473.7 263.0 470.0 263.6 466.3 263.8 433.3 262.9 424.2 263.0 407.6 263.7 398.3 263.8 394.6 263.3 391.0 262.5 387.5 261.3 384.2 259.7 379.6 256.6 376.9 254.1 374.5 251.4 372.4 248.4 370.1 243.5 369.0 240.1 368.3 236.6 368.1 233.0 368.6 227.7 369.5 224.2 370.7 220.8 372.4 217.6 375.6 213.2 378.2 210.6 381.0 208.3 384.1 206.3 389.2 204.1 392.8 203.0 396.4 202.4 400.2 202.2 433.2 203.1 442.3 202.9 458.9 202.3 468.2 202.2 471.9 202.6 475.5 203.5 479.0 204.7 482.4 206.3 486.9 209.4 489.7 211.8 492.1 214.6 494.1 217.6 496.5 222.5 497.5 225.9 498.2 229.4 498.4 233.0 497.9 238.3 497.1 241.8 495.8 245.2 494.1 248.4 490.9 252.8 488.3 255.4 485.5 257.7 482.4 259.7 477.3 262.0 473.7 263.0 470.1 263.6 466.3 263.8 433.3 262.9 424.2 263.1 407.6 263.7 398.3 263.8 394.6 263.4 391.0 262.5 387.5 261.3 384.1 259.7 379.5 256.6 376.8 254.2 374.4 251.4 372.4 248.4 370.0 243.5 369.0 240.1 368.3 236.6 368.1 233.0 368.6 227.7 369.4 224.2 370.7 220.8 372.4 217.6 375.6 213.2 378.1 210.6 381.0 208.3 384.1 206.3 389.2 204.0 392.8 203.0 396.4 202.4 400.2 202.2 433.2 203.1 442.3 202.9 458.9 202.3 468.2 202.2 471.9 202.6 475.5 203.5 479.0 204.7 482.4 206.3 487.0 209.4 489.7 211.8 492.1 214.6 494.1 217.6 496.5 222.5 497.6 225.9 498.2 229.4 498.4 233.0 497.9 238.4 497.1 241.8 495.8 245.2 494.1 248.4 490.9 252.8 488.4 255.4 485.5 257.7 482.4 259.7 477.3 262.0 473.7 263.0 470.1 263.6 466.3 263.8 433.3 262.9 424.2 263.1 407.6 263.7 398.3 263.8 394.6 263.4 391.0 262.5 387.4 261.3 384.1 259.7 379.5 256.6 376.8 254.2 374.4 251.4 372.4 248.4 370.0 243.6 368.9 240.1 368.3 236.6 368.1 233.0 368.6 227.6 369.4 224.2 370.7 220.8 372.4 217.6 375.6 213.2 378.1 210.6 381.0 208.3 384.1 206.3 389.2 204.0 392.7 203.0 396.4 202.4 400.1 202.2 433.2 203.1 442.3 202.9 458.9 202.3 468.2 202.2 471.9 202.6 475.6 203.4 479.1 204.7 482.4 206.3 487.0 209.4 489.7 211.8 492.1 214.6 494.1 217.6 496.5 222.4 497.6 225.9 498.2 229.4 498.4 233.0 498.0 238.4 497.1 241.8 495.8 245.2 494.1 248.4 490.9 252.8 488.4 255.4 485.5 257.7 482.4 259.7 477.3 262.0 473.8 263.0 470.1 263.6 466.4 263.9 433.3 262.9 424.2 263.1 407.6 263.7 398.3 263.8 394.6 263.4 390.9 262.6 387.4 261.3 384.1 259.7 379.5 256.6 376.8 254.2 374.4 251.4 372.4 248.4 370.0 243.6 368.9 240.1 368.3 236.6 368.0 233.0 368.5 227.6 369.4 224.2 370.7 220.8 372.3 217.6 375.6 213.2 378.1 210.6 381.0 208.3 384.1 206.3 389.2 204.0 392.7 203.0 396.4 202.4 400.1 202.1 433.2 203.1 442.3 202.9 458.9 202.2 468.2 202.2 471.9 202.6 475.6 203.4 479.1 204.7 482.4 206.3 487.0 209.4 489.7 211.8 492.1 214.6 494.2 217.6 496.5 222.4 497.6 225.9 498.2 229.4 498.5 233.0 498.0 238.4 497.1 241.8 495.8 245.2 494.2 248.4 490.9 252.8 488.4 255.4 485.5 257.8 482.4 259.7 477.3 262.0 473.8 263.0 470.1 263.7 466.4 263.9 433.3 262.9 424.2 263.1 407.6 263.8 398.3 263.8 394.6 263.4 390.9 262.6 387.4 261.3 384.1 259.7 379.5 256.6 376.8 254.2 374.4 251.4 372.3 248.4 370.0 243.6 368.9 240.1 368.3 236.6 368.0 233.0 368.5 227.6 369.4 224.1 370.7 220.8 372.3 217.6 375.5 213.2 378.1 210.6 381.0 208.2 384.1 206.3 389.2 204.0 392.7 203.0 396.4 202.3 400.1 202.1 433.2 203.1 442.3 202.9 458.9 202.2 468.2 202.2 471.9 202.6 475.6 203.4 479.1 204.7 482.4 206.3 487.0 209.4 489.7 211.8 492.1 214.6 494.2 217.6 496.5 222.4 497.6 225.9 498.2 229.4 498.5 233.0 498.0 238.4 497.1 241.9 495.8 245.2 494.2 248.4 491.0 252.8 488.4 255.5 485.5 257.8 482.4 259.7 477.3 262.0 473.8 263.0 470.1 263.7 466.4 263.9 433.3 262.9 424.2 263.1 407.6 263.8 398.3 263.8 394.6 263.4 390.9 262.6 387.4 261.3 384.1 259.7 379.5 256.6 376.8 254.2 374.4 251.4 372.3 248.4 370.0 243.6 368.9 240.1 368.2 236.6 368.0 233.0 368.5 227.6 369.4 224.1 370.7 220.8 372.3 217.6 375.5 213.2 378.1 210.5 381.0 208.2 384.1 206.3 389.2 204.0 392.7 203.0 396.4 202.3 400.1 202.1 433.2 203.1 442.3 202.9 458.9 202.2 468.2 202.2 471.9 202.6 475.6 203.4 479.1 204.7 482.4 206.3 487.0 209.3 489.7 211.8 492.1 214.6 494.2 217.6 496.5 222.4 497.6 225.9 498.3 229.4 498.5 233.0 498.0 238.4 497.1 241.9 495.8 245.2 494.2 248.4 491.0 252.8 488.4 255.5 485.5 257.8 482.4 259.7 477.4 262.0 473.8 263.0 470.1 263.7 466.4 263.9 433.3 262.9 424.2 263.1 407.6 263.8 398.3 263.8 394.6 263.4 390.9 262.6 387.4 261.4 384.1 259.7 379.5 256.7 376.8 254.2 374.4 251.4 372.3 248.4 370.0 243.6 368.9 240.1 368.2 236.6 368.0 233.0 368.5 227.6 369.4 224.1 370.6 220.8 372.3 217.6 375.5 213.2 378.1 210.5 381.0 208.2 384.1 206.3 389.1 204.0 392.7 203.0 396.4 202.3 400.1 202.1 433.2 203.0 442.3 202.9 458.9 202.2 468.2 202.2 471.9 202.6 475.6 203.4 479.1 204.6 482.4 206.3 487.0 209.3 489.7 211.8 492.1 214.6 494.2 217.6 496.5 222.4 497.6 225.9 498.3 229.4 498.5 233.0 498.0 238.4 497.1 241.9 495.9 245.2 494.2 248.4 491.0 252.8 488.4 255.5 485.5 257.8 482.4 259.7 477.4 262.0 473.8 263.0 470.1 263.7 466.4 263.9 433.3 263.0 424.2 263.1 407.6 263.8 398.3 263.8 394.6 263.4 390.9 262.6 387.4 261.4 384.1 259.7 379.5 256.7 376.8 254.2 374.4 251.4 372.3 248.4 370.0 243.6 368.9 240.1 368.2 236.6 368.0 233.0 368.5 227.6 369.4 224.1 370.6 220.8 372.3 217.6 375.5 213.2 378.1 210.5 381.0 208.2 384.1 206.3 389.1 204.0 392.7 203.0 396.4 202.3 400.1 202.1 433.2 203.0 442.3 202.9 458.9 202.2 468.2 202.2 471.9 202.6 475.6 203.4 479.1 204.6 482.4 206.3 487.0 209.3 489.7 211.8 492.1 214.6 494.2 217.6 496.5 222.4 497.6 225.9 498.3 229.4 498.5 233.0 498.0 238.4 497.1 241.9 495.9 245.2 494.2 248.4 491.0 252.8 488.4 255.5 485.5 257.8 482.4 259.7 477.4 262.0 473.8 263.0 470.1 263.7 466.4 263.9 433.3 263.0 424.2 263.1 407.6 263.8 398.3 263.8 394.6 263.4 390.9 262.6 387.4 261.4 384.1 259.7 379.5 256.7 376.8 254.2 374.4 251.4 372.3 248.4 370.0 243.6 368.9 240.1 368.2 236.6 368.0 233.0 368.5 227.6 369.4 224.1 370.6 220.8 372.3 217.6 375.5 213.2 378.1 210.5 380.9 208.2 384.1 206.3 389.1 204.0 392.7 203.0 396.4 202.3 400.1 202.1 433.2 203.0 442.3 202.9 458.9 202.2 468.2 202.2 472.0 202.6 475.6 203.4 479.1 204.6 482.4 206.3 487.0 209.3 489.7 211.8 492.1 214.6 494.2 217.6 496.6 222.4 497.6 225.9 498.3 229.4 498.5 233.0 498.0 238.4 497.1 241.9 495.9 245.2 494.2 248.4 491.0 252.9 488.4 255.5 485.6 257.8 482.4 259.7 477.4 262.0 473.8 263.1 470.1 263.7 466.4 263.9 433.3 263.0 424.2 263.1 407.6 263.8 398.3 263.8 394.5 263.4 390.9 262.6 387.4 261.4 384.1 259.7 379.5 256.7 376.8 254.2 374.4 251.4 372.3 248.4 369.9 243.6 368.9 240.1 368.2 236.6 368.0 233.0 368.5 227.6 369.4 224.1 370.6 220.8 372.3 217.6 375.5 213.1 378.1 210.5 380.9 208.2 384.1 206.3 389.1 204.0 392.7 202.9 396.4 202.3 400.1 202.1 433.2 203.0 442.3 202.9 458.9 202.2 468.2 202.2 472.0 202.6 475.6 203.4 479.1 204.6 482.4 206.3 487.0 209.3 489.7 211.8 492.1 214.6 494.2 217.6 496.6 222.4 497.6 225.9 498.3 229.4 498.5 233.0 498.0 238.4 497.1 241.9 495.9 245.2 494.2 248.4 491.0 252.9 488.4 255.5 485.6 257.8 482.4 259.7 477.4 262.0 473.8 263.1 470.1 263.7 466.4 263.9 433.3 263.0 424.2 263.1 407.6 263.8 398.3 263.8 394.5 263.4 390.9 262.6 387.4 261.4 384.1 259.7 379.5 256.7 376.8 254.2 374.4 251.4 372.3 248.4 369.9 243.6 368.9 240.1 368.2 236.6 368.0 233.0 368.5 227.6 369.4 224.1 370.6 220.8 372.3 217.6 375.5 213.1 378.1 210.5 380.9 208.2 384.1 206.3 389.1 204.0 392.7 202.9 396.4 202.3 400.1 202.1 433.2 203.0 442.3 202.9 458.9 202.2 468.2 202.2 472.0 202.6 475.6 203.4 479.1 204.6 482.4 206.3 487.0 209.3 489.7 211.8 492.1 214.6 494.2 217.6 496.6 222.4 497.6 225.9 498.3 229.4 498.5 233.0 498.0 238.4 497.1 241.9 495.9 245.2 494.2 248.4 491.0 252.9 488.4 255.5 485.6 257.8 482.4 259.7 477.4 262.0 473.8 263.1 470.1 263.7 466.4 263.9 433.3 263.0 424.2 263.1 407.6 263.8 398.3 263.8 394.5 263.4 390.9 262.6 387.4 261.4 384.1 259.7 379.5 256.7 376.8 254.2 374.4 251.4 372.3 248.4 369.9 243.6 368.9 240.1 368.2 236.6 368.0 233.0 368.5 227.6 369.4 224.1 370.6 220.8 372.3 217.6 375.5 213.1 378.1 210.5 380.9 208.2 384.1 206.3 389.1 204.0 392.7 202.9 396.4 202.3 400.1 202.1 433.2 203.0 442.3 202.9 458.9 202.2 468.2 202.2 472.0 202.6 475.6 203.4 479.1 204.6 482.4 206.3 487.0 209.3 489.7 211.8 492.1 214.6 494.2 217.6 496.6 222.4 497.6 225.9 498.3 229.4 498.5 233.0 498.0 238.4 497.1 241.9 495.9 245.2 494.2 248.4 491.0 252.9 488.4 255.5 485.6 257.8 482.4 259.7 477.4 262.0 473.8 263.1 470.1 263.7 466.4 263.9 433.3 263.0 424.2 263.1 407.6 263.8 398.3 263.8 394.5 263.4 390.9 262.6 387.4 261.4 384.1 259.7 379.5 256.7 376.8 254.2 374.4 251.4 372.3 248.4 369.9 243.6 368.9 240.1 368.2 236.6 368.0 233.0 368.5 227.6 369.4 224.1 370.6 220.8 372.3 217.6 375.5 213.1 378.1 210.5 380.9 208.2 384.1 206.3 389.1 204.0 392.7 202.9 396.4 202.3 400.1 202.1 433.2 203.0 442.3 202.9 458.9 202.2 468.2 202.2 472.0 202.6 475.6 203.4 479.1 204.6 482.4 206.3 487.0 209.3 489.7 211.8 492.1 214.6 494.2 217.6 496.6 222.4 497.6 225.9 498.3 229.4 498.5 233.0 498.0 238.4 497.1 241.9 495.9 245.2 494.2 248.4 491.0 252.9 488.4 255.5 485.6 257.8 482.4 259.7 477.4 262.0 473.8 263.1 470.1 263.7 466.4 263.9 433.3 263.0 424.2 263.1 407.6 263.8 398.3 263.8 394.5 263.4 390.9 262.6 387.4 261.4 384.1 259.7 379.5 256.7 376.8 254.2 374.4 251.4 372.3 248.4 369.9 243.6 368.9 240.1 368.2 236.6 368.0 233.0 368.5 227.6 369.4 224.1 370.6 220.8 372.3 217.6 375.5 213.1 378.1 210.5 380.9 208.2 384.1 206.3 389.1 204.0 392.7 202.9 396.4 202.3 400.1 202.1 433.2 203.0 442.3 202.9 458.9 202.2 468.2 202.2 472.0 202.6 475.6 203.4 479.1 204.6 482.4 206.3 487.0 209.3 489.7 211.8 492.1 214.6 494.2 217.6 496.6 222.4 497.6 225.9 498.3 229.4 498.5 233.0 498.0 238.4 497.1 241.9 495.9 245.2 494.2 248.4 491.0 252.9 488.4 255.5 485.6 257.8 482.4 259.7 477.4 262.0 473.8 263.1 470.1 263.7 466.4 263.9 433.3 263.0 424.2 263.1 407.6 263.8 398.3 263.8 394.5 263.4 390.9 262.6 387.4 261.4 384.1 259.7 379.5 256.7 376.8 254.2 374.4 251.4 372.3 248.4 369.9 243.6 368.9 240.1 368.2 236.6 368.0 233.0 368.5 227.6 369.4 224.1 370.6 220.8 372.3 217.6 375.5 213.1 378.1 210.5 380.9 208.2 384.1 206.3 389.1 204.0 392.7 202.9 396.4 202.3 400.1 202.1 433.2 203.0 442.3 202.9 458.9 202.2 468.2 202.2 472.0 202.6 475.6 203.4 479.1 204.6 482.4 206.3 487.0 209.3 489.7 211.8 492.1 214.6 494.2 217.6 496.6 222.4 497.6 225.9 498.3 229.4 498.5 233.0 498.0 238.4 497.1 241.9 495.9 245.2 494.2 248.4 491.0 252.9 488.4 255.5 485.6 257.8 482.4 259.7 477.4 262.0 473.8 263.1 470.1 263.7 466.4 263.9 433.3 263.0 424.2 263.1 407.6 263.8 398.3 263.8 394.5 263.4 390.9 262.6 387.4 261.4 384.1 259.7 379.5 256.7 376.8 254.2 374.4 251.4 372.3 248.4 369.9 243.6 368.9 240.1 368.2 236.6 368.0 233.0 368.5 227.6 369.4 224.1 370.6 220.8 372.3 217.6 375.5 213.1 378.1 210.5 380.9 208.2 384.1 206.3 389.1 204.0 392.7 202.9 396.4 202.3 400.1 202.1 433.2 203.0 442.3 202.9 458.9 202.2 468.2 202.2 472.0 202.6 475.6 203.4 479.1 204.6 482.4 206.3 487.0 209.3 489.7 211.8 492.1 214.6 494.2 217.6 496.6 222.4 497.6 225.9 498.3 229.4 498.5 233.0 498.0 238.4 497.1 241.9 495.9 245.2 494.2 248.4 491.0 252.9 488.4 255.5 485.6 257.8 482.4 259.7 477.4 262.0 473.8 263.1 470.1 263.7 466.4 263.9 433.3 263.0 424.2 263.1 407.6 263.8 398.3 263.8 394.5 263.4 390.9 262.6 387.4 261.4 384.1 259.7 379.5 256.7 376.8 254.2 374.4 251.4 372.3 248.4 369.9 243.6 368.9 240.1 368.2 236.6 368.0 233.0 368.5 227.6 369.4 224.1 370.6 220.8 372.3 217.6 375.5 213.1 378.1 210.5 380.9 208.2 384.1 206.3 389.1 204.0 392.7 202.9 396.4 202.3 400.1 202.1 433.2 203.0 442.3 202.9 458.9 202.2 468.2 202.2 472.0 202.6 475.6 203.4 479.1 204.6 482.4 206.3 487.0 209.3 489.7 211.8 492.1 214.6 494.2 217.6 496.6 222.4 497.6 225.9 498.3 229.4 498.5 233.0 498.0 238.4 497.1 241.9 495.9 245.2 494.2 248.4 491.0 252.9 488.4 255.5 485.6 257.8 482.4 259.7 477.4 262.0 473.8 263.1 470.1 263.7 466.4 263.9 433.3 263.0 424.2 263.1 407.6 263.8 398.3 263.8 394.5 263.4 390.9 262.6 387.4 261.4 384.1 259.8 379.5 256.7 376.8 254.2 374.4 251.4 372.3 248.4 369.9 243.6 368.9 240.1 368.2 236.6 368.0 233.0 368.5 227.6 369.4 224.1 370.6 220.8 372.3 217.6 375.5 213.1 378.1 210.5 380.9 208.2 384.1 206.2 389.1 204.0 392.7 202.9 396.4 202.3 400.1 202.1 433.2 203.0 442.3 202.9 458.9 202.2 468.2 202.2 472.0 202.6 475.6 203.4 479.1 204.6 482.4 206.2 487.0 209.3 489.7 211.8 492.1 214.6 494.2 217.6 496.6 222.4 497.6 225.9 498.3 229.4 498.5 233.0 498.0 238.4 497.1 241.9 495.9 245.2 494.2 248.4 491.0 252.9 488.4 255.5 485.6 257.8 482.4 259.8 477.4 262.0 473.8 263.1 470.1 263.7 466.4 263.9 433.3 263.0 424.2 263.1 407.6 263.8 398.3 263.8 394.5 263.4 390.9 262.6 387.4 261.4 384.1 259.8 379.5 256.7 376.8 254.2 374.4 251.4 372.3 248.4 369.9 243.6 368.9 240.1 368.2 236.6 368.0 233.0 368.5 227.6 369.4 224.1 370.6 220.8 372.3 217.6 375.5 213.1 378.1 210.5 380.9 208.2 384.1 206.2 389.1 204.0 392.7 202.9 396.4 202.3 400.1 202.1 433.2 203.0 442.3 202.9 458.9 202.2 468.2 202.2 472.0 202.6 475.6 203.4 479.1 204.6 482.4 206.2 487.0 209.3 489.7 211.8 492.1 214.6 494.2 217.6 496.6 222.4 497.6 225.9 498.3 229.4 498.5 233.0 498.0 238.4 497.1 241.9 495.1 246.9 493.2 250.0 489.7 254.2 487.0 256.7 484.0 258.8 480.8 260.6 477.4 262.0 473.8 263.1 468.2 263.8 458.9 263.8 442.3 263.1 433.3 263.0 400.1 263.9 394.5 263.4 390.9 262.6 385.7 260.6 382.5 258.8 378.1 255.5 375.5 252.9 373.3 250.0 371.4 246.9 369.9 243.6 368.9 240.1 368.2 236.6 368.1 231.2 368.9 225.9 369.9 222.4 372.3 217.6 374.4 214.6 378.1 210.5 380.9 208.2 384.1 206.2 387.4 204.6 392.7 202.9 398.3 202.2 407.6 202.2 424.2 202.9 433.2 203.0 442.3 202.9 458.9 202.2 468.2 202.2 473.8 202.9 479.1 204.6 484.0 207.2 488.4 210.5" stroke="#a808d0"/><path clip-path="url(#ce)" d="M50.3 456.0 51.3 455.9 51.8 454.8 52.4 452.0 52.9 447.3 53.9 432.3 56.2 385.9 56.9 377.7 57.2 375.6 57.5 374.9 57.9 375.6 58.2 377.7 58.9 386.2 61.1 431.0 62.0 445.3 62.9 453.4 63.4 455.2 63.9 456.0 64.8 455.8 65.4 454.6 65.9 451.8 66.4 447.0 67.4 432.1 69.7 386.1 70.4 377.7 70.7 375.6 71.0 374.9 71.3 375.6 71.7 377.7 72.4 386.2 74.6 431.0 75.5 445.3 76.4 453.3 76.8 455.2 77.4 456.0 78.3 455.8 78.9 454.7 79.4 451.8 79.9 447.0 80.9 432.1 83.2 386.1 83.9 377.7 84.2 375.6 84.5 374.9 84.8 375.6 85.2 377.7 85.9 386.2 88.1 431.0 89.0 445.3 89.9 453.3 90.3 455.2 90.9 455.9 91.8 455.8 92.4 454.7 92.9 451.9 93.4 447.1 94.4 432.3 96.7 386.1 97.3 377.7 97.7 375.6 98.0 374.9 98.3 375.6 98.7 377.7 99.4 386.2 101.6 431.0 102.4 445.1 103.3 453.2 103.8 455.2 104.4 455.9 105.3 455.9 105.8 454.7 106.4 451.9 106.9 447.1 107.9 432.3 110.2 386.1 110.8 377.7 111.2 375.6 111.5 374.9 111.8 375.6 112.1 377.7 112.8 386.2 115.1 431.0 115.9 445.1 116.8 453.2 117.3 455.1 117.8 455.9 118.8 455.9 119.3 454.7 119.9 451.9 120.4 447.1 121.4 432.3 123.7 386.1 124.3 377.7 124.7 375.6 125.0 374.9 125.3 375.6 125.6 377.7 126.3 386.2 128.6 431.0 129.4 445.0 130.3 453.1 130.8 455.1 131.3 455.9 132.2 455.9 132.8 454.7 133.4 451.9 133.9 447.2 134.9 432.3 137.1 386.1 137.8 377.7 138.2 375.6 138.5 374.9 138.8 375.6 139.1 377.7 139.8 386.2 142.0 431.0 142.9 445.0 143.8 453.1 144.3 455.1 144.8 455.9 145.7 455.9 146.3 454.8 146.9 452.0 147.4 447.2 148.4 432.3 150.6 386.1 151.3 377.7 151.7 375.6 152.0 374.9 152.3 375.6 152.6 377.7 153.3 386.2 155.5 430.9 156.4 444.9 157.3 453.0 157.7 455.0 158.3 455.9 159.2 455.9 159.8 454.8 160.3 452.0 160.9 447.3 161.8 432.3 164.1 386.1 164.8 377.7 165.1 375.6 165.5 374.9 165.8 375.6 166.1 377.7 166.8 386.2 169.0 430.9 169.9 444.8 170.7 452.9 171.2 454.9 171.7 455.9 172.7 455.9 173.3 454.8 173.8 452.1 174.3 447.4 175.3 432.4 177.6 385.9 178.3 377.7 178.6 375.6 179.0 374.9 179.3 375.6 179.6 377.7 180.3 386.2 182.5 430.7 183.4 444.6 184.2 452.7 184.7 454.8 185.2 455.8 185.6 456.0 186.2 455.9 186.7 454.9 187.3 452.2 187.8 447.5 188.8 432.4 191.1 385.9 191.8 377.7 192.1 375.6 192.5 374.9 192.8 375.6 193.1 377.7 193.8 386.2 196.0 430.7 196.9 444.5 197.7 452.6 198.1 454.7 198.6 455.8 199.0 456.0 199.6 455.9 200.2 455.0 200.8 452.3 201.3 447.6 202.3 432.4 204.6 386.1 205.3 377.7 205.6 375.7 205.9 374.9 206.3 375.6 206.6 377.7 207.3 386.2 209.5 430.6 210.3 444.3 211.1 452.3 211.6 454.5 212.0 455.7 212.4 456.0 213.0 456.0 213.7 455.0 214.3 452.4 214.8 447.8 215.8 432.6 218.1 385.9 218.8 377.7 219.1 375.7 219.4 374.9 219.8 375.6 220.1 377.7 220.8 386.2 223.8 443.9 224.6 451.9 225.0 454.1 225.4 455.5 225.8 455.9 226.4 456.0 226.8 455.8 227.1 455.2 227.7 452.6 228.3 448.0 229.3 432.9 231.6 385.9 232.3 377.7 232.6 375.7 232.9 374.9 233.2 375.5 233.6 377.6 234.3 386.2 237.2 443.2 237.9 450.8 238.7 454.9 239.0 455.7 239.4 456.0 240.1 455.9 240.5 455.4 241.1 453.0 241.7 448.5 242.8 433.0 245.1 386.1 245.8 377.9 246.1 375.7 246.4 374.9 246.7 375.4 247.0 377.2 247.7 384.9 250.2 435.5 250.9 445.1 251.5 451.4 251.9 454.1 252.4 455.6 253.1 456.0 253.6 455.9 253.9 455.6 254.4 454.4 254.7 452.4 255.5 445.0" stroke="#b0121c"/><path clip-path="url(#cf)" d="M331.8 398.8 333.6 397.0 337.1 394.6 341.5 392.2 346.9 389.6 352.6 387.1 358.6 384.8 371.5 380.8 384.3 377.6 397.2 375.3 409.8 374.0 422.2 373.5 433.5 373.9 439.0 374.5 444.2 375.3 449.1 376.3 453.7 377.5 458.1 378.9 462.2 380.5 465.9 382.4 469.2 384.4 471.9 386.5 474.3 388.8 476.1 391.2 477.4 393.6 478.2 395.8 478.5 398.8 478.2 401.5 477.4 403.4 476.1 405.5 474.5 407.5 472.3 409.4 469.5 411.4 466.4 413.1 462.9 414.7 459.1 416.1 454.8 417.3 445.7 419.2 435.4 420.4 424.2 420.8 412.2 420.4 399.9 419.2 387.3 417.3 374.6 414.6 361.5 411.1 349.2 407.0 343.4 404.7 338.2 402.5 334.0 400.3 331.8 398.8" stroke="#b0121c"/></g><path d="M473.51 103.42L482.86 96.94L484.88 103.85Z" fill="#1428c8"/><path d="M437.10 241.56L446.05 237.83L446.16 245.03Z" fill="#a808d0"/><path d="M386.89 377.09L378.05 382.90L376.50 375.05Z" fill="#b0121c"/><g class="tl"><text x="50.50" y="139.60" text-anchor="middle">0</text><text x="101.80" y="139.60" text-anchor="middle">5</text><text x="153.10" y="139.60" text-anchor="middle">10</text><text x="204.40" y="139.60" text-anchor="middle">15</text><text x="255.70" y="139.60" text-anchor="middle">20</text><text x="46.20" y="129.50" text-anchor="end">-0.4</text><text x="46.20" y="100.72" text-anchor="end">-0.2</text><text x="46.20" y="71.95" text-anchor="end">0.0</text><text x="46.20" y="43.17" text-anchor="end">0.2</text><text x="46.20" y="14.40" text-anchor="end">0.4</text></g><g class="tl"><text x="331.80" y="139.70" text-anchor="middle">-0.4</text><text x="383.18" y="139.70" text-anchor="middle">-0.2</text><text x="434.55" y="139.70" text-anchor="middle">0.0</text><text x="485.92" y="139.70" text-anchor="middle">0.2</text><text x="537.30" y="139.70" text-anchor="middle">0.4</text><text x="327.50" y="129.60" text-anchor="end">-4</text><text x="327.50" y="100.85" text-anchor="end">-2</text><text x="327.50" y="72.10" text-anchor="end">0</text><text x="327.50" y="43.35" text-anchor="end">2</text><text x="327.50" y="14.60" text-anchor="end">4</text></g><g class="tl"><text x="49.50" y="304.70" text-anchor="middle">0</text><text x="100.95" y="304.70" text-anchor="middle">5</text><text x="152.40" y="304.70" text-anchor="middle">10</text><text x="203.85" y="304.70" text-anchor="middle">15</text><text x="255.30" y="304.70" text-anchor="middle">20</text><text x="45.20" y="294.60" text-anchor="end">-8</text><text x="45.20" y="265.98" text-anchor="end">-4</text><text x="45.20" y="237.35" text-anchor="end">0</text><text x="45.20" y="208.72" text-anchor="end">4</text><text x="45.20" y="180.10" text-anchor="end">8</text></g><g class="tl"><text x="330.50" y="305.20" text-anchor="middle">-6</text><text x="381.88" y="305.20" text-anchor="middle">-3</text><text x="433.25" y="305.20" text-anchor="middle">0</text><text x="484.62" y="305.20" text-anchor="middle">3</text><text x="536.00" y="305.20" text-anchor="middle">6</text><text x="326.20" y="295.10" text-anchor="end">-80</text><text x="326.20" y="266.35" text-anchor="end">-40</text><text x="326.20" y="237.60" text-anchor="end">0</text><text x="326.20" y="208.85" text-anchor="end">40</text><text x="326.20" y="180.10" text-anchor="end">80</text></g><g class="tl"><text x="50.30" y="470.70" text-anchor="middle">0</text><text x="91.34" y="470.70" text-anchor="middle">5</text><text x="132.38" y="470.70" text-anchor="middle">10</text><text x="173.42" y="470.70" text-anchor="middle">15</text><text x="214.46" y="470.70" text-anchor="middle">20</text><text x="255.50" y="470.70" text-anchor="middle">25</text><text x="46.00" y="460.60" text-anchor="end">0.0</text><text x="46.00" y="437.60" text-anchor="end">0.2</text><text x="46.00" y="414.60" text-anchor="end">0.4</text><text x="46.00" y="391.60" text-anchor="end">0.6</text><text x="46.00" y="368.60" text-anchor="end">0.8</text><text x="46.00" y="345.60" text-anchor="end">1.0</text></g><g class="tl"><text x="331.80" y="471.00" text-anchor="middle">0.0</text><text x="372.90" y="471.00" text-anchor="middle">0.2</text><text x="414.00" y="471.00" text-anchor="middle">0.4</text><text x="455.10" y="471.00" text-anchor="middle">0.6</text><text x="496.20" y="471.00" text-anchor="middle">0.8</text><text x="537.30" y="471.00" text-anchor="middle">1.0</text><text x="327.50" y="460.90" text-anchor="end">-4</text><text x="327.50" y="432.15" text-anchor="end">-2</text><text x="327.50" y="403.40" text-anchor="end">0</text><text x="327.50" y="374.65" text-anchor="end">2</text><text x="327.50" y="345.90" text-anchor="end">4</text></g><text class="tt" x="152.30" y="25.70" text-anchor="middle">Static</text><text class="tt" x="434.05" y="25.90" text-anchor="middle">Static</text><text class="tt" x="152.80" y="191.40" text-anchor="middle">Self-buckling (alternating)</text><text class="tt" x="440.25" y="191.40" text-anchor="middle">Self-buckling (alternating)</text><text class="tt" x="149.90" y="357.70" text-anchor="middle">Self-buckling (unilateral)</text><text class="tt" x="436.95" y="357.80" text-anchor="middle">Self-buckling (unilateral)</text><text class="pl" x="3.40" y="15.20">(a)</text><text class="pl" x="286.10" y="14.30">(b)</text><text class="pl" x="3.40" y="179.30">(c)</text><text class="pl" x="286.10" y="179.75">(d)</text><text class="pl" x="11.10" y="345.65">(e)</text><text class="pl" x="287.00" y="345.65">(f)</text><text class="it" x="11.4" y="75.85">W</text><text class="it" x="11.4" y="241.25">W</text><text class="it" x="11.4" y="407.00">W</text><text class="itt" x="145.50" y="156.90">t</text><path d="M146.10 145.30h5.4" stroke="#111" stroke-width="1.2"/><text class="itt" x="144.80" y="322.10">t</text><path d="M145.40 311.20h5.4" stroke="#111" stroke-width="1.2"/><text class="itt" x="145.30" y="486.80">t</text><path d="M145.90 475.50h5.4" stroke="#111" stroke-width="1.2"/><text class="it" style="font-size:15.0px" x="429.35" y="154.40" text-anchor="middle">W</text><text class="itr" x="295.4" y="77.60">W</text><text class="sub" x="306.5" y="79.50">,</text><text class="subi" x="308.0" y="80.10">t</text><path d="M308.9 73.40h4.3" stroke="#111" stroke-width="0.9"/><text class="it" style="font-size:12.8px" x="428.85" y="319.30" text-anchor="middle">W</text><text class="itr" x="295.4" y="241.80">W</text><text class="sub" x="306.5" y="243.70">,</text><text class="subi" x="308.0" y="244.30">t</text><path d="M308.9 237.50h4.3" stroke="#111" stroke-width="0.9"/><text class="it" style="font-size:14.4px" x="429.55" y="486.30" text-anchor="middle">W</text><text class="itr" x="295.4" y="408.60">W</text><text class="sub" x="306.5" y="410.20">,</text><text class="subi" x="308.0" y="410.80">t</text><path d="M308.9 404.30h4.3" stroke="#111" stroke-width="0.9"/></svg>
</body></html>
